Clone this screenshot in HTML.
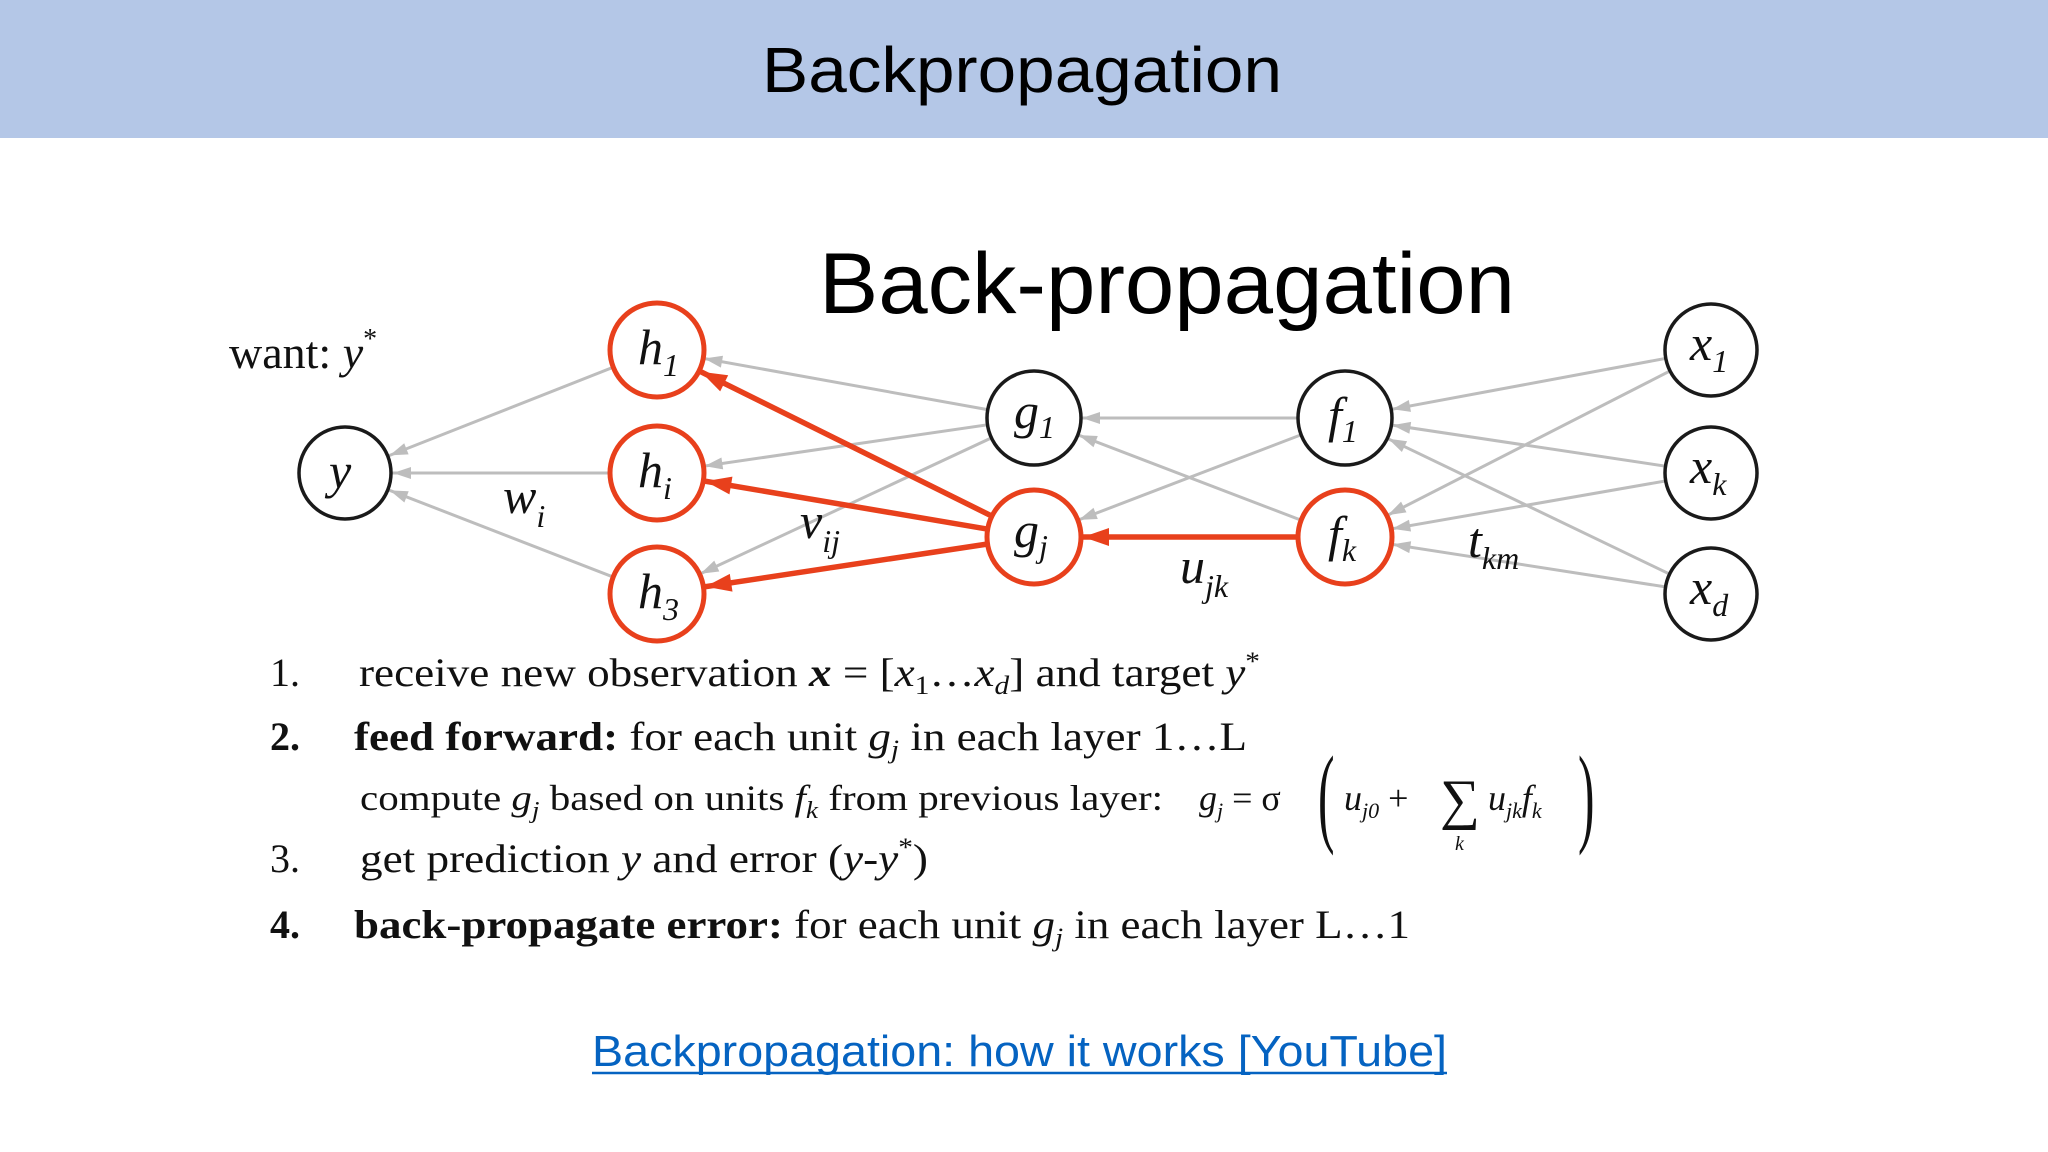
<!DOCTYPE html>
<html><head><meta charset="utf-8"><style>
html,body{margin:0;padding:0;background:#fff;}
svg{display:block}
</style></head><body>
<svg width="2048" height="1152" viewBox="0 0 2048 1152" xmlns="http://www.w3.org/2000/svg">
<defs>
<marker id="ag" markerUnits="userSpaceOnUse" markerWidth="20" markerHeight="14" refX="66" refY="6" orient="auto" overflow="visible"><path d="M0,0 L18,6 L0,12 z" fill="#bdbdbd"/></marker>
<marker id="ar" markerUnits="userSpaceOnUse" markerWidth="26" markerHeight="20" refX="75" refY="9" orient="auto" overflow="visible"><path d="M0,0 L26,9 L0,18 z" fill="#e8401c"/></marker>
</defs>
<rect x="0" y="0" width="2048" height="138" fill="#b4c7e7"/>
<text x="762" y="92" font-family="Liberation Sans, sans-serif" font-size="64" fill="#000" textLength="520" lengthAdjust="spacingAndGlyphs">Backpropagation</text>
<text x="819" y="313" font-family="Liberation Sans, sans-serif" font-size="86" textLength="696" lengthAdjust="spacingAndGlyphs" fill="#000">Back-propagation</text>

<g stroke="#bdbdbd" stroke-width="3" fill="none" marker-end="url(#ag)">
<line x1="657" y1="350" x2="345" y2="473"/>
<line x1="657" y1="473" x2="345" y2="473"/>
<line x1="657" y1="594" x2="345" y2="473"/>
<line x1="1034" y1="418" x2="657" y2="350"/>
<line x1="1034" y1="418" x2="657" y2="473"/>
<line x1="1034" y1="418" x2="657" y2="594"/>
<line x1="1345" y1="418" x2="1034" y2="418"/>
<line x1="1345" y1="418" x2="1034" y2="537"/>
<line x1="1345" y1="537" x2="1034" y2="418"/>
<line x1="1711" y1="350" x2="1345" y2="418"/>
<line x1="1711" y1="350" x2="1345" y2="537"/>
<line x1="1711" y1="473" x2="1345" y2="418"/>
<line x1="1711" y1="473" x2="1345" y2="537"/>
<line x1="1711" y1="594" x2="1345" y2="418"/>
<line x1="1711" y1="594" x2="1345" y2="537"/>
</g>
<g stroke="#e8401c" stroke-width="5.5" fill="none" marker-end="url(#ar)">
<line x1="1034" y1="537" x2="657" y2="350"/>
<line x1="1034" y1="537" x2="657" y2="473"/>
<line x1="1034" y1="537" x2="657" y2="594"/>
<line x1="1345" y1="537" x2="1034" y2="537"/>
</g>

<g fill="#fff" stroke-width="3.5">
<circle cx="345" cy="473" r="46" stroke="#1a1a1a"/>
<circle cx="657" cy="350" r="47" stroke="#e8401c" stroke-width="5"/>
<circle cx="657" cy="473" r="47" stroke="#e8401c" stroke-width="5"/>
<circle cx="657" cy="594" r="47" stroke="#e8401c" stroke-width="5"/>
<circle cx="1034" cy="418" r="47" stroke="#1a1a1a"/>
<circle cx="1034" cy="537" r="47" stroke="#e8401c" stroke-width="5"/>
<circle cx="1345" cy="418" r="47" stroke="#1a1a1a"/>
<circle cx="1345" cy="537" r="47" stroke="#e8401c" stroke-width="5"/>
<circle cx="1711" cy="350" r="46" stroke="#1a1a1a"/>
<circle cx="1711" cy="473" r="46" stroke="#1a1a1a"/>
<circle cx="1711" cy="594" r="46" stroke="#1a1a1a"/>
</g>

<g font-family="Liberation Serif, serif" font-style="italic" font-size="50" fill="#111">
<text x="329" y="488">y</text>
<text x="638" y="364">h<tspan font-size="32" dy="12">1</tspan></text>
<text x="638" y="487">h<tspan font-size="32" dy="12">i</tspan></text>
<text x="638" y="608">h<tspan font-size="32" dy="12">3</tspan></text>
<text x="1014" y="428">g<tspan font-size="32" dy="10">1</tspan></text>
<text x="1014" y="547">g<tspan font-size="32" dy="10">j</tspan></text>
<text x="1328" y="432">f<tspan font-size="32" dy="10">1</tspan></text>
<text x="1328" y="551">f<tspan font-size="32" dy="10">k</tspan></text>
<text x="1690" y="360">x<tspan font-size="32" dy="12">1</tspan></text>
<text x="1690" y="483">x<tspan font-size="32" dy="12">k</tspan></text>
<text x="1690" y="604">x<tspan font-size="32" dy="12">d</tspan></text>
<text x="503" y="513">w<tspan font-size="32" dy="14">i</tspan></text>
<text x="800" y="538">v<tspan font-size="32" dy="14">ij</tspan></text>
<text x="1180" y="583">u<tspan font-size="32" dy="14">jk</tspan></text>
<text x="1468" y="557">t<tspan font-size="32" dy="12">km</tspan></text>
</g>
<text x="229" y="368" font-family="Liberation Serif, serif" font-size="46" fill="#111">want: <tspan font-style="italic">y</tspan><tspan font-size="28" dy="-20">*</tspan></text>

<g font-family="Liberation Serif, serif" font-size="40" fill="#111">
<text x="270" y="686">1.</text>
<text x="359" y="686" textLength="901" lengthAdjust="spacingAndGlyphs">receive new observation <tspan font-weight="bold" font-style="italic">x</tspan> = [<tspan font-style="italic">x</tspan><tspan font-size="26" dy="8">1</tspan><tspan dy="-8">…</tspan><tspan font-style="italic">x</tspan><tspan font-size="26" font-style="italic" dy="8">d</tspan><tspan dy="-8">] and target </tspan><tspan font-style="italic">y</tspan><tspan font-size="26" dy="-16">*</tspan></text>
<text x="270" y="750" font-weight="bold">2.</text>
<text x="354" y="750" textLength="893" lengthAdjust="spacingAndGlyphs"><tspan font-weight="bold">feed forward:</tspan> for each unit <tspan font-style="italic">g</tspan><tspan font-size="26" font-style="italic" dy="8">j</tspan><tspan dy="-8"> in each layer 1…L</tspan></text>
<text x="360" y="810" font-size="36" textLength="803" lengthAdjust="spacingAndGlyphs">compute <tspan font-style="italic">g</tspan><tspan font-size="24" font-style="italic" dy="8">j</tspan><tspan dy="-8"> based on units </tspan><tspan font-style="italic">f</tspan><tspan font-size="24" font-style="italic" dy="8">k</tspan><tspan dy="-8">  from previous layer:</tspan></text>
<text x="1199" y="810" font-size="36" font-style="italic">g<tspan font-size="22" dy="8">j</tspan><tspan font-style="normal" dy="-8"> = σ</tspan></text>
<text x="1318" y="832" font-size="110" transform="translate(1318,0) scale(0.45,1) translate(-1318,0)">(</text>
<text x="1344" y="810" font-size="36" font-style="italic">u<tspan font-size="22" dy="8">j0</tspan><tspan font-style="normal" dy="-8"> + </tspan></text>
<text x="1440" y="818" font-size="56">∑</text>
<text x="1455" y="850" font-size="20" font-style="italic">k</text>
<text x="1488" y="810" font-size="36" font-style="italic">u<tspan font-size="22" dy="8">jk</tspan><tspan dy="-8">f</tspan><tspan font-size="22" dy="8">k</tspan></text>
<text x="1578" y="832" font-size="110" transform="translate(1578,0) scale(0.45,1) translate(-1578,0)">)</text>
<text x="270" y="872">3.</text>
<text x="360" y="872" textLength="568" lengthAdjust="spacingAndGlyphs">get prediction <tspan font-style="italic">y</tspan> and error (<tspan font-style="italic">y</tspan>-<tspan font-style="italic">y</tspan><tspan font-size="26" dy="-16">*</tspan><tspan dy="16">)</tspan></text>
<text x="270" y="938" font-weight="bold">4.</text>
<text x="354" y="938" textLength="1056" lengthAdjust="spacingAndGlyphs"><tspan font-weight="bold">back-propagate error:</tspan> for each unit <tspan font-style="italic">g</tspan><tspan font-size="26" font-style="italic" dy="8">j</tspan><tspan dy="-8"> in each layer L…1</tspan></text>
</g>

<text x="592" y="1066" font-family="Liberation Sans, sans-serif" font-size="44" fill="#0563c1" textLength="855" lengthAdjust="spacingAndGlyphs">Backpropagation: how it works [YouTube]</text>
<line x1="592" y1="1073" x2="1447" y2="1073" stroke="#0563c1" stroke-width="2.5"/>
</svg>
</body></html>
